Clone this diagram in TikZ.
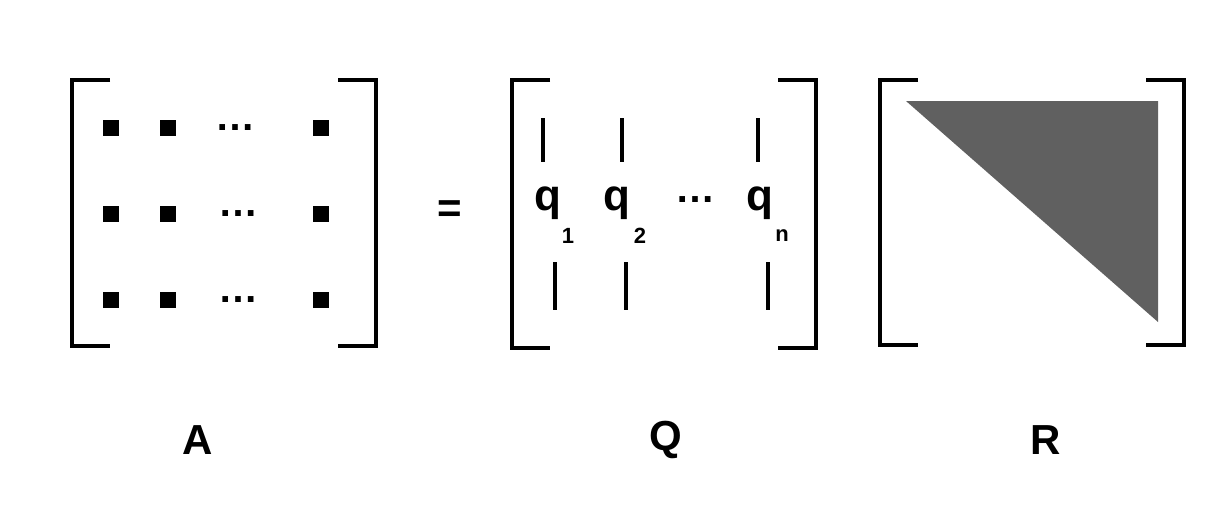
\documentclass[tikz,border=0pt]{standalone}
\usepackage{fontspec}
\setmainfont{Liberation Sans}
\begin{document}
\begin{tikzpicture}[x=0.5pt,y=-0.5pt,
 br/.style={line width=2pt},
 sq/.style={fill=black,minimum size=8pt,inner sep=0pt},
 bar/.style={line width=2pt},
 big/.style={font=\fontsize{21}{24}\selectfont\bfseries},
 dots/.style={font=\fontsize{20}{24}\selectfont\bfseries}]
\useasboundingbox (0,0) rectangle (1228,520);
% brackets
\foreach \l/\r/\t/\b in {72/376/80/346, 512/816/80/348, 880/1184/80/345}{
 \draw[br] (\l+38,\t) -- (\l,\t) -- (\l,\b) -- (\l+38,\b);
 \draw[br] (\r-38,\t) -- (\r,\t) -- (\r,\b) -- (\r-38,\b);
}
% A entries
\foreach \y [count=\i] in {128,214,300}{
 \node[sq] (a\i1) at (111,\y) {};
 \node[sq] (a\i2) at (168,\y) {};
 \node[sq] (a\i3) at (321,\y) {};
}
\node[dots] (d1) at (235,128) {…};
\node[dots] (d2) at (238,214) {…};
\node[dots] (d3) at (238,300) {…};
\node[big] (eq) at (450,212) {=};
% Q
\draw[bar] (543,118) -- (543,162);
\draw[bar] (622,118) -- (622,162);
\draw[bar] (758,118) -- (758,162);
\draw[bar] (555,262) -- (555,310);
\draw[bar] (626,262) -- (626,310);
\draw[bar] (768,262) -- (768,310);
\node[font=\fontsize{22}{24}\selectfont\bfseries] (q1) at (548,203) {q};
\node[font=\fontsize{11}{12}\selectfont\bfseries] (s1) at (568,236) {1};
\node[font=\fontsize{22}{24}\selectfont\bfseries] (q2) at (617,203) {q};
\node[font=\fontsize{11}{12}\selectfont\bfseries] (s2) at (640,236) {2};
\node[dots] (qd) at (695,200) {…};
\node[font=\fontsize{22}{24}\selectfont\bfseries] (qn) at (760,203) {q};
\node[font=\fontsize{11}{12}\selectfont\bfseries] (sn) at (782,236) {n};
% R
\fill[fill={rgb,255:red,96;green,96;blue,96}] (906,101) -- (1158,101) -- (1158,322) -- cycle;
% labels
\node[big] (lA) at (198,440) {A};
\node[big] (lQ) at (666,440) {Q};
\node[big] (lR) at (1046,440) {R};
\end{tikzpicture}
\end{document}
